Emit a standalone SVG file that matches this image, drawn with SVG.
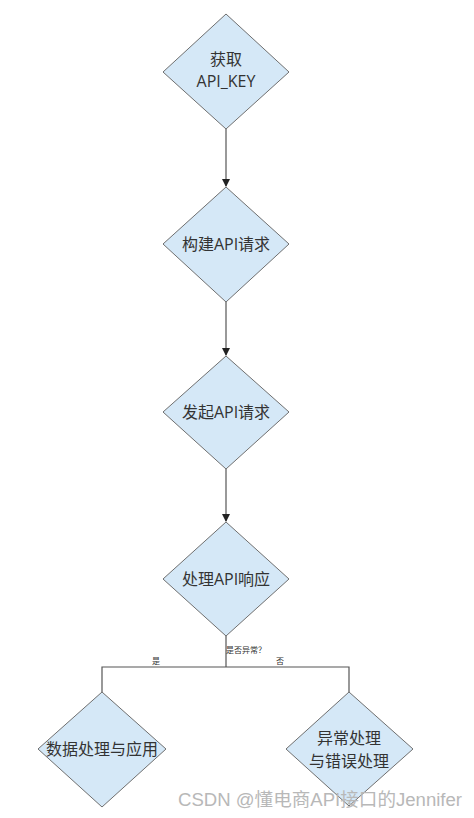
<svg xmlns="http://www.w3.org/2000/svg" width="474" height="818" viewBox="0 0 474 818">
<style>
.d{fill:#d5e8f7;stroke:#6f6f6f;stroke-width:1}
.t{font-family:"Open Sans","Noto Sans CJK SC",sans-serif;font-size:16px;fill:#333;text-anchor:middle}
.c{fill:none;stroke:#555;stroke-width:1.2}
.s{font-family:"Noto Sans CJK SC",sans-serif;font-size:8px;fill:#333}
.w{font-family:"Liberation Sans","Noto Sans CJK SC",sans-serif;font-size:18px;fill:#b8b8b8}
</style>
<defs>
<marker id="a" markerWidth="8" markerHeight="8" refX="7" refY="4" orient="auto" markerUnits="userSpaceOnUse">
<path d="M0,0 L8,4 L0,8 z" fill="#222"/>
</marker>
</defs>
<rect width="474" height="818" fill="#fff"/>
<g id="connectors">
<line class="c" x1="226" y1="129" x2="226" y2="186" marker-end="url(#a)"/>
<line class="c" x1="226" y1="302" x2="226" y2="355" marker-end="url(#a)"/>
<line class="c" x1="226" y1="469" x2="226" y2="521" marker-end="url(#a)"/>
<polyline class="c" points="226,636 226,667"/>
<polyline class="c" points="102,692 102,667 349,667 349,692"/>
<text class="s" x="226" y="653">是否异常？</text>
<text class="s" x="152" y="664">是</text>
<text class="s" x="276" y="664">否</text>
</g>
<g id="n1">
<polygon class="d" points="226,14 289,72 226,129 163,72"/>
<text class="t" x="226" y="65">获取</text>
<text class="t" x="226" y="87">API_KEY</text>
</g>
<g id="n2">
<polygon class="d" points="226,187 289,244 226,302 163,244"/>
<text class="t" x="226" y="250">构建API请求</text>
</g>
<g id="n3">
<polygon class="d" points="226,356 289,412 226,469 163,412"/>
<text class="t" x="226" y="418">发起API请求</text>
</g>
<g id="n4">
<polygon class="d" points="226,522 289,579 226,636 163,579"/>
<text class="t" x="226" y="585">处理API响应</text>
</g>
<g id="n5">
<polygon class="d" points="102,692 166,749 102,807 38,749"/>
<text class="t" x="102" y="755">数据处理与应用</text>
</g>
<g id="n6">
<polygon class="d" points="349,692 413,749 349,806 286,749"/>
<text class="t" x="349" y="744">异常处理</text>
<text class="t" x="349" y="767">与错误处理</text>
</g>
<text class="w" x="178" y="806" textLength="284" lengthAdjust="spacingAndGlyphs">CSDN @懂电商API接口的Jennifer</text>
</svg>
